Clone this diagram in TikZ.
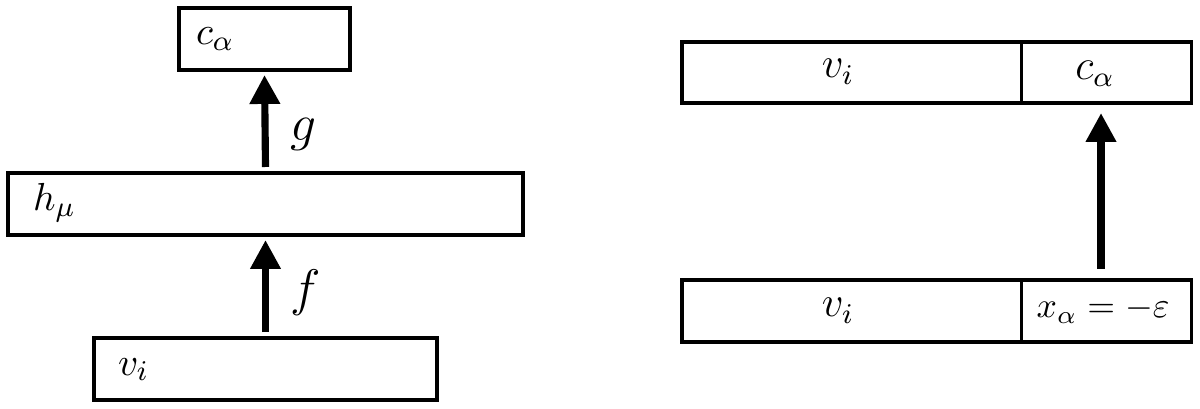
\documentclass[tikz,border=0pt]{standalone}
\usetikzlibrary{arrows.meta}
\def\u{0.28pt}
\tikzset{
  box/.style={draw, line width=0.85pt, rectangle, inner sep=0pt, outer sep=0pt},
  lbl/.style={inner sep=0pt, outer sep=0pt, anchor=base west, font=\fontsize{11}{13}\selectfont},
  clbl/.style={inner sep=0pt, outer sep=0pt, anchor=base, font=\fontsize{11.5}{13}\selectfont},
  fglbl/.style={inner sep=0pt, outer sep=0pt, anchor=base west, font=\Large},
  bigarrow/.style={line width=2pt, -{Triangle[length=8.1pt,width=8.1pt]}}
}
\begin{document}
\begin{tikzpicture}[x=0.28pt, y=-0.28pt]
\useasboundingbox (0,0) rectangle (1200,409);
% left column
\node[box, minimum width=171*\u, minimum height=62*\u] (ca) at (264.5,39) {};
\node[box, minimum width=515*\u, minimum height=62*\u] (hm) at (265.5,204) {};
\node[box, minimum width=343*\u, minimum height=62*\u] (vl) at (265.5,369) {};
\node[lbl] (tca) at (196,45) {$c_\alpha$};
\node[lbl] (thm) at (33,211) {$h_\mu$};
\node[lbl] (tvl) at (118,375) {$v_i$};
\draw[bigarrow] ([yshift=6*\u]hm.north) -- ([yshift=-5*\u]ca.south);
\draw[bigarrow] ([yshift=6*\u]vl.north) -- ([yshift=-5*\u]hm.south);
\node[fglbl] (tg) at (290,141) {$g$};
\node[fglbl] (tf) at (290,305) {$f$};
% right column
\node[box, minimum width=339*\u, minimum height=61*\u] (vt) at (851.5,72.5) {};
\node[box, minimum width=170*\u, minimum height=61*\u] (ct) at (1106,72.5) {};
\node[box, minimum width=339*\u, minimum height=62*\u] (vb) at (851.5,311) {};
\node[box, minimum width=170*\u, minimum height=62*\u] (xb) at (1106,311) {};
\node[clbl] (tvt) at (838,78) {$v_i$};
\node[clbl] (tct) at (1095,80) {$c_\alpha$};
\node[clbl] (tvb) at (838,317) {$v_i$};
\node[clbl, font=\normalsize] (txb) at (1103,318) {$x_\alpha=-\varepsilon$};
\draw[bigarrow] ([xshift=-5*\u, yshift=11*\u]xb.north) -- ([xshift=-5*\u, yshift=-10*\u]ct.south);
\end{tikzpicture}
\end{document}
